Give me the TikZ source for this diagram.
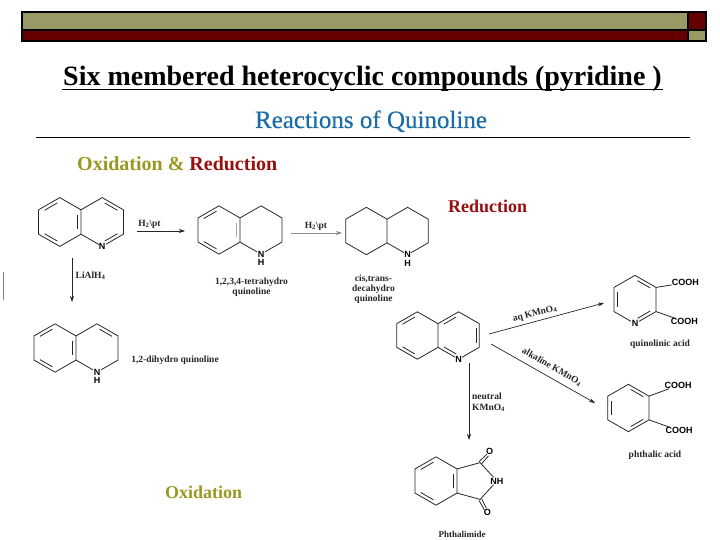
\documentclass[tikz,border=0pt]{standalone}
\usepackage{fontspec}
\setmainfont{Liberation Serif}
\newfontfamily\atomfont{Liberation Sans}
\newfontfamily\bluefont[FakeBold=0.3]{Liberation Serif}
\usetikzlibrary{calc,arrows.meta}

\definecolor{barolive}{HTML}{999966}
\definecolor{barred}{HTML}{660000}
\definecolor{textolive}{HTML}{999922}
\definecolor{textred}{HTML}{990F0F}
\definecolor{textblue}{HTML}{1A6CA6}

\newcommand{\ringatoms}{
  \coordinate (a) at (0,-11.5);
  \coordinate (b) at (-20,-23);
  \coordinate (c) at (-40,-11.5);
  \coordinate (d) at (-40,11.5);
  \coordinate (e) at (-20,23);
  \coordinate (f) at (0,11.5);
  \coordinate (g) at (20,-23);
  \coordinate (h) at (40,-11.5);
  \coordinate (i) at (40,11.5);
  \coordinate (n) at (20,23);
  \coordinate (lc) at (-20,0);
  \coordinate (rc) at (20,0);
}
\newcommand{\innerbond}[3]{\draw[bond] ($(#1)!.14!(#2)!.16!(#3)$) -- ($(#2)!.14!(#1)!.16!(#3)$);}

\begin{document}
\begin{tikzpicture}[
    x=1pt, y=-1pt,
    bond/.style={draw=black!85, line width=0.8pt},
    atom/.style={font=\atomfont\bfseries\fontsize{9}{9}\selectfont, fill=white, inner sep=0.4pt},
    acid/.style={font=\atomfont\bfseries\fontsize{9}{9}\selectfont, anchor=west, inner sep=0pt},
    cmpd/.style={font=\bfseries\fontsize{9.5}{10}\selectfont, align=center, inner sep=0pt, text=black!85},
    reagent/.style={font=\bfseries\fontsize{9.5}{11}\selectfont, inner sep=0pt, text=black!85},
    rxn/.style={-{Stealth[length=6pt,width=4pt]}, line width=0.7pt, black!85},
    heading/.style={font=\bfseries\fontsize{18}{18}\selectfont, inner sep=0pt, anchor=base west}
]
\useasboundingbox (0,0) rectangle (720,540);

% header bar
\fill[barolive] (22,12) rectangle (688,30);
\fill[barred] (22,30) rectangle (688,41);
\fill[barred] (688,12) rectangle (706,30);
\fill[barolive] (688,30) rectangle (706,41);
\draw[line width=1.6pt] (22,12) rectangle (706,41);
\draw[line width=1.2pt] (22,30) -- (706,30);
\draw[line width=1.2pt] (688,12) -- (688,41);

% headings
\node[font=\bfseries\fontsize{28}{28}\selectfont, inner sep=0pt, anchor=base] (title) at (362.5,86) {Six membered heterocyclic compounds (pyridine )};
\coordinate (titleL) at (62,89.5);
\coordinate (titleR) at (663,89.5);
\draw[line width=1.8pt] (titleL) -- (titleR);
\node[font=\bluefont\fontsize{25}{25}\selectfont, text=textblue, inner sep=0pt, anchor=base] (reactions) at (371,128) {Reactions of Quinoline};
\coordinate (ruleL) at (36,137.5);
\coordinate (ruleR) at (690,137.5);
\draw[line width=1.4pt] (ruleL) -- (ruleR);
\node[heading, font=\bfseries\fontsize{20}{20}\selectfont, text=textolive] (oxred) at (77,171) {Oxidation \& \textcolor{textred}{Reduction}};
\node[heading, text=textred] (reduction) at (448,212) {Reduction};
\node[heading, text=textolive] (oxidation) at (165,498) {Oxidation};

% stray mark
\coordinate (markT) at (3,272);
\coordinate (markB) at (3,300);
\draw[black!50, line width=1pt] (markT) -- (markB);

% quinoline, top left
\begin{scope}[shift={(81,222)}, scale=1.06]
  \ringatoms
  \draw[bond] (a) -- (b) -- (c) -- (d) -- (e) -- (f) -- (a) -- (g) -- (h) -- (i) -- (n) -- (f);
  \innerbond{b}{c}{lc} \innerbond{d}{e}{lc} \innerbond{a}{f}{lc}
  \innerbond{g}{h}{rc} \innerbond{i}{n}{rc}
  \node[atom] (q1N) at (n) {N};
\end{scope}

% 1,2-dihydro quinoline
\begin{scope}[shift={(76,348)}, scale=1.05]
  \ringatoms
  \draw[bond] (a) -- (b) -- (c) -- (d) -- (e) -- (f) -- (a) -- (g) -- (h) -- (i) -- (n) -- (f);
  \innerbond{b}{c}{lc} \innerbond{d}{e}{lc} \innerbond{a}{f}{lc}
  \innerbond{g}{h}{rc}
  \node[atom] (q2N) at (n) {N};
  \node[atom, fill=none] (q2H) at ($(n)+(0,8)$) {H};
\end{scope}

% tetrahydro quinoline
\begin{scope}[shift={(240,230)}, scale=1.05]
  \ringatoms
  \draw[bond] (a) -- (b) -- (c) -- (d) -- (e) -- (f) -- (a) -- (g) -- (h) -- (i) -- (n) -- (f);
  \innerbond{b}{c}{lc} \innerbond{d}{e}{lc}
  \draw[black!35, line width=0.8pt] ($(a)!.14!(f)!.16!(lc)$) -- ($(f)!.14!(a)!.16!(lc)$);
  \node[atom] (q3N) at (n) {N};
  \node[atom, fill=none] (q3H) at ($(n)+(0,8)$) {H};
\end{scope}

% decahydro quinoline
\begin{scope}[shift={(387,231)}, scale=1.03]
  \ringatoms
  \draw[bond] (a) -- (b) -- (c) -- (d) -- (e) -- (f) -- (a) -- (g) -- (h) -- (i) -- (n) -- (f);
  \node[atom] (q4N) at (n) {N};
  \node[atom, fill=none] (q4H) at ($(n)+(0,8)$) {H};
\end{scope}

% quinoline, oxidation
\begin{scope}[shift={(438,335.5)}, scale=1.03]
  \ringatoms
  \draw[bond] (a) -- (b) -- (c) -- (d) -- (e) -- (f) -- (a) -- (g) -- (h) -- (i) -- (n) -- (f);
  \innerbond{b}{c}{lc} \innerbond{d}{e}{lc}
  \innerbond{a}{g}{rc} \innerbond{h}{i}{rc} \innerbond{f}{n}{rc}
  \node[atom] (q5N) at (n) {N};
\end{scope}

% quinolinic acid
\begin{scope}[shift={(656,299.5)}, scale=1.05]
  \ringatoms
  \draw[bond] (a) -- (b) -- (c) -- (d) -- (e) -- (f) -- cycle;
  \innerbond{a}{b}{lc} \innerbond{c}{d}{lc} \innerbond{e}{f}{lc}
  \node[atom] (pyN) at (e) {N};
  \node[acid] (pyA) at (15,-16) {COOH};
  \node[acid] (pyB) at (14,21) {COOH};
  \draw[bond] (a) -- (pyA);
  \draw[bond] (f) -- (pyB);
\end{scope}
\node[cmpd] (quinolinic) at (660,344) {quinolinic acid};

% phthalic acid
\begin{scope}[shift={(649,408)}, scale=1.03]
  \ringatoms
  \draw[bond] (a) -- (b) -- (c) -- (d) -- (e) -- (f) -- cycle;
  \innerbond{a}{b}{lc} \innerbond{c}{d}{lc} \innerbond{e}{f}{lc}
  \node[acid] (phA) at (15,-22) {COOH};
  \node[acid] (phB) at (16,22) {COOH};
  \draw[bond] (a) -- (phA);
  \draw[bond] (f) -- (phB);
\end{scope}
\node[cmpd] (phthalic) at (655,455) {phthalic acid};

% phthalimide
\begin{scope}[shift={(457,481)}, scale=1.05]
  \ringatoms
  \draw[bond] (a) -- (b) -- (c) -- (d) -- (e) -- (f) -- cycle;
  \innerbond{b}{c}{lc} \innerbond{d}{e}{lc} \innerbond{a}{f}{lc}
  \coordinate (co1) at (22,-17.5);
  \coordinate (co2) at (22,17.5);
  \node[atom, fill=none] (imNH) at (38,0) {NH};
  \node[atom, fill=none] (imO1) at (31,-28) {O};
  \node[atom, fill=none] (imO2) at (29,30) {O};
  \draw[bond] (a) -- (co1) -- (imNH) -- (co2) -- (f);
  \draw[bond] ($(co1)+(-1,-1)$) -- ($(imO1)+(-2.5,2.5)$);
  \draw[bond] ($(co1)+(1.5,1)$) -- ($(imO1)+(-1,4)$);
  \draw[bond] ($(co2)+(-1,1)$) -- ($(imO2)+(-3,-2.5)$);
  \draw[bond] ($(co2)+(1.5,-0.5)$) -- ($(imO2)+(-1,-4)$);
\end{scope}
\node[cmpd, font=\bfseries\fontsize{9}{9}\selectfont] (phthalimide) at (462,534) {Phthalimide};

% compound names
\node[cmpd] (dihydro) at (175,360) {1,2-dihydro quinoline};
\node[cmpd] (tetrahydro) at (251.5,287) {1,2,3,4-tetrahydro\\quinoline};
\node[cmpd] (decahydro) at (373.5,289) {cis,trans-\\decahydro\\quinoline};

% reaction arrows
\coordinate (h1S) at (137,231);
\coordinate (h1E) at (185,231);
\draw[rxn] (h1S) -- (h1E);
\node[reagent] (h1) at (149.5,224) {H$_{\mathbf 2}$\textbackslash pt};
\coordinate (h2S) at (291,233);
\coordinate (h2E) at (342,233);
\draw[rxn, black!45] (h2S) -- (h2E);
\node[reagent] (h2) at (316,226) {H$_{\mathbf 2}$\textbackslash pt};
\coordinate (liS) at (72,258);
\coordinate (liE) at (72,302);
\draw[rxn] (liS) -- (liE);
\node[reagent, anchor=west] (li) at (75.5,276) {LiAlH$_{\mathbf 4}$};
\coordinate (aqS) at (489,334);
\coordinate (aqE) at (604,303);
\draw[rxn] (aqS) -- (aqE);
\node[reagent, rotate=15] (aq) at (535,314) {aq KMnO$_{\mathbf 4}$};
\coordinate (alkS) at (491,344);
\coordinate (alkE) at (595,403);
\draw[rxn] (alkS) -- (alkE);
\node[reagent, rotate=-30] (alk) at (552,367) {alkaline KMnO$_{\mathbf 4}$};
\coordinate (neuS) at (469,363);
\coordinate (neuE) at (469,440);
\draw[rxn] (neuS) -- (neuE);
\node[reagent, anchor=west, align=left] (neu) at (472,402) {neutral\\KMnO$_{\mathbf 4}$};

\end{tikzpicture}
\end{document}
